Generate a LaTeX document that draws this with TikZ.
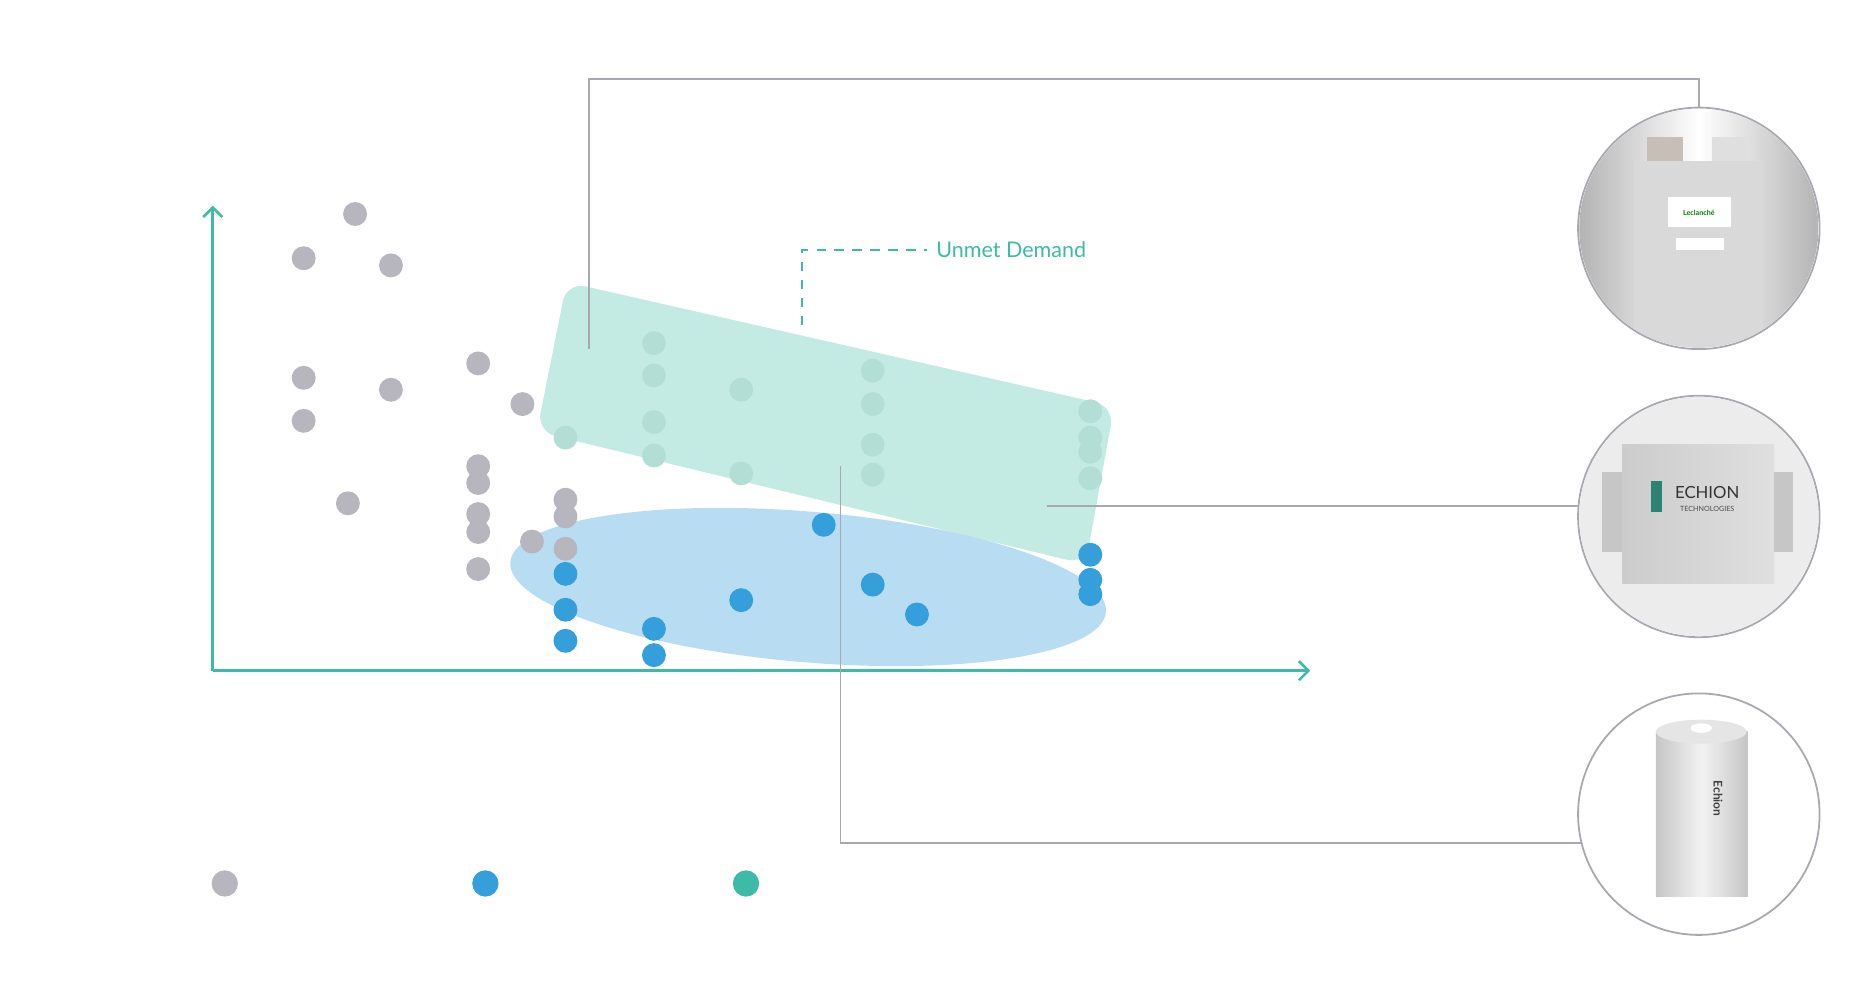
\documentclass[tikz,border=0pt]{standalone}
\usepackage{fontspec}
\setmainfont{Lato}
\usetikzlibrary{arrows.meta}
\definecolor{teal}{HTML}{3DBBA6}
\definecolor{grayd}{HTML}{B7B5BE}
\definecolor{blued}{HTML}{359FDC}
\definecolor{teald}{HTML}{B3DED6}
\definecolor{linec}{HTML}{A9A7AF}
\tikzset{
 gdot/.style={circle,fill=grayd,minimum size=20pt,inner sep=0pt},
 bdot/.style={circle,fill=blued,minimum size=20pt,inner sep=0pt},
 tdot/.style={circle,fill=teald,minimum size=20pt,inner sep=0pt},
 axis/.style={teal,line width=2.2pt,-{Straight Barb[length=8pt,width=16pt]}},
 leader/.style={linec,line width=1.6pt},
 photo/.style={circle,draw=linec,line width=1.5pt,minimum size=202pt,inner sep=0pt}
}
\begin{document}
\begin{tikzpicture}[x=1pt,y=-1pt]
\useasboundingbox (0,0) rectangle (1560,832);
% regions
\fill[blued,opacity=0.35] (676,491) ellipse[x radius=250,y radius=63,rotate=-4.8];
\fill[teal,opacity=0.3,rounded corners=16] (474,236) -- (932,340) -- (908,472) -- (449,361) -- cycle;
% axes
\coordinate (o) at (178,561);
\coordinate (ytop) at (178,172);
\coordinate (xend) at (1096,561);
\draw[axis] (o) -- (ytop);
\draw[axis] (o) -- (xend);
% gray dots
\foreach \p [count=\i] in {(297,179),(254,216),(327,222),(254,316),(327,326),(254,352),(400,304),(437,338),(400,390),(400,404),(291,421),(400,430),(400,445),(445,453),(400,476),(473,418),(473,432),(473,459)}
  \node[gdot] (g\i) at \p {};
% teal dots
\foreach \p [count=\i] in {(473,366),(547,287),(547,314),(547,353),(547,381),(620,326),(620,396),(730,310),(730,338),(730,372),(730,397),(912,344),(912,366),(912,378),(912,400)}
  \node[tdot] (t\i) at \p {};
% blue dots
\foreach \p [count=\i] in {(689,439),(473,480),(473,510),(473,536),(547,526),(547,548),(620,502),(730,489),(767,514),(912,464),(912,485),(912,497)}
  \node[bdot] (b\i) at \p {};
% photos
\node[photo] (p1) at (1421,191) {};
\node[photo] (p2) at (1421,432) {};
\node[photo] (p3) at (1421,681) {};
\begin{scope}
 \clip (p1.center) circle (100);
 \shade[left color=gray!60,right color=gray!60,middle color=white] (1320,90) rectangle (1522,292);
 \fill[brown!25!gray!50] (1378,115) rectangle (1408,137);
 \fill[gray!25] (1432,115) rectangle (1462,137);
 \fill[gray!30] (1367,135) rectangle (1475,292);
 \fill[white] (1395,165) rectangle (1448,190);
 \node[font=\fontsize{6}{6}\selectfont\bfseries,text=green!50!black] at (1421,178) {Leclanché};
 \fill[white] (1402,199) rectangle (1442,209);
\end{scope}
\begin{scope}
 \clip (p2.center) circle (100);
 \fill[gray!15] (1320,330) rectangle (1522,534);
 \fill[gray!45] (1340,395) rectangle (1500,462);
 \shade[left color=gray!40,right color=gray!25] (1357,372) rectangle (1484,488);
 \node[font=\fontsize{14}{14}\selectfont,text=black!80] (ech) at (1428,412) {ECHION};
 \node[font=\fontsize{6}{6}\selectfont,text=black!70] at (1428,426) {TECHNOLOGIES};
 \fill[teal!70!black] (1381,402) rectangle (1390,428);
\end{scope}
\begin{scope}
 \clip (p3.center) circle (100);
 \shade[left color=gray!45,right color=gray!45,middle color=gray!10] (1385,612) rectangle (1462,750);
 \fill[gray!20] (1423,612) ellipse (38 and 10);
 \fill[white] (1423,609) ellipse (9 and 4);
 \node[rotate=-90,font=\fontsize{10}{10}\selectfont\bfseries,text=black!75] at (1437,668) {Echion};
\end{scope}
% leader lines
\coordinate (l1) at (493,292);
\coordinate (l1a) at (493,66);
\coordinate (l1b) at (1421,66);
\draw[leader] (l1) -- (l1a) -- (l1b) -- (p1.north);
\coordinate (l2) at (876,423);
\coordinate (l2b) at (1321,423);
\draw[leader] (l2) -- (l2b);
\coordinate (l3) at (703,390);
\coordinate (l3a) at (703,705);
\coordinate (l3b) at (1323,705);
\draw[leader] (l3) -- (l3a) -- (l3b);
% unmet demand
\coordinate (u0) at (671,272);
\coordinate (u1) at (671,209);
\coordinate (u2) at (775,209);
\node[anchor=west,text=teal,font=\fontsize{18}{18}\selectfont,inner sep=0pt] (ud) at (783,209) {Unmet Demand};
\draw[teal,line width=2pt,dash pattern=on 8pt off 7pt] (u0) -- (u1) -- (u2);
% legend
\node[circle,fill=grayd,minimum size=22pt,inner sep=0pt] (lg) at (188,739) {};
\node[circle,fill=blued,minimum size=22pt,inner sep=0pt] (lb) at (406,739) {};
\node[circle,fill=teal,minimum size=22pt,inner sep=0pt] (lt) at (624,739) {};
\end{tikzpicture}
\end{document}
